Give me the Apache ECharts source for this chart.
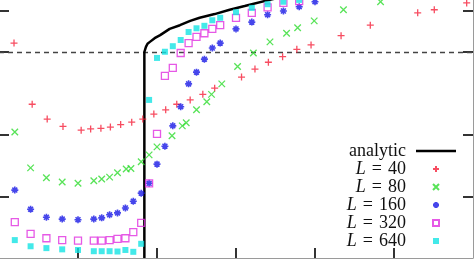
<!DOCTYPE html>
<html><head><meta charset="utf-8">
<script src="https://cdn.jsdelivr.net/npm/echarts@6/dist/echarts.min.js"></script>
<style>html,body{margin:0;padding:0;background:#fff;}#c{width:474px;height:259px;}</style>
</head><body><div id="c"></div>
<script>
const X_TICKS = [1, 2, 3, 4, 5];
const Y_TICKS = [1, 2, 10 / 3, 4];
const DASHED_LEVEL = 10 / 3;
const SERIES_NAMES = ['analytic', 'L = 40', 'L = 80', 'L = 160', 'L = 320', 'L = 640'];

const analytic = [[1.84,0],[1.84,3.336],[1.86,3.42],[1.88,3.47],[1.91,3.50],[1.97,3.56],[2.04,3.61],[2.16,3.71],[2.29,3.77],[2.42,3.84],[2.54,3.89],[2.73,3.95],[2.92,4.02],[3.11,4.08],[3.36,4.16],[3.62,4.24],[3.9,4.32],[4.2,4.40],[4.5,4.48],[4.7,4.53]];

const L40 = [[0.19,3.48],[0.42,2.49],[0.61,2.25],[0.81,2.13],[1.04,2.07],[1.16,2.09],[1.29,2.10],[1.41,2.12],[1.54,2.16],[1.68,2.20],[1.82,2.25],[1.96,2.33],[2.11,2.40],[2.25,2.49],[2.42,2.56],[2.58,2.65],[2.73,2.75],[3.07,2.93],[3.24,3.06],[3.41,3.17],[3.59,3.26],[3.77,3.38],[3.95,3.45],[4.33,3.60],[4.70,3.77],[5.30,3.97],[5.51,4.02],[5.92,4.13]];

const L80 = [[0.2,2.04],[0.4,1.46],[0.6,1.30],[0.8,1.23],[1.0,1.21],[1.2,1.25],[1.3,1.28],[1.4,1.31],[1.5,1.38],[1.61,1.44],[1.67,1.45],[1.8,1.56],[1.9,1.67],[2.0,1.80],[2.19,1.98],[2.32,2.14],[2.37,2.19],[2.5,2.40],[2.63,2.53],[2.69,2.65],[2.82,2.82],[3.02,3.10],[3.22,3.32],[3.43,3.50],[3.64,3.64],[3.78,3.73],[3.99,3.84],[4.36,4.02],[4.83,4.15]];

const L160 = [[0.2,1.10],[0.4,0.79],[0.6,0.66],[0.8,0.63],[1.0,0.62],[1.2,0.63],[1.3,0.65],[1.4,0.70],[1.5,0.73],[1.6,0.81],[1.7,0.92],[1.8,1.05],[1.9,1.21],[2.0,1.52],[2.1,1.81],[2.2,2.14],[2.3,2.45],[2.4,2.82],[2.5,3.01],[2.6,3.22],[2.7,3.40],[2.8,3.48],[3.0,3.71],[3.2,3.82],[3.4,3.94],[3.6,4.00],[3.8,4.07],[4.0,4.15]];

const L320 = [[0.2,0.58],[0.4,0.39],[0.6,0.32],[0.8,0.29],[1.0,0.28],[1.2,0.28],[1.3,0.28],[1.4,0.29],[1.5,0.31],[1.6,0.32],[1.7,0.42],[1.8,0.57],[1.9,1.21],[2.0,2.01],[2.1,2.95],[2.2,3.08],[2.3,3.32],[2.4,3.48],[2.5,3.58],[2.6,3.64],[2.7,3.71],[2.8,3.77],[3.0,3.89],[3.2,3.97],[3.4,4.06],[3.6,4.13],[3.8,4.16]];

const L640 = [[0.2,0.29],[0.4,0.19],[0.6,0.16],[0.8,0.14],[1.0,0.13],[1.2,0.11],[1.3,0.11],[1.4,0.11],[1.5,0.105],[1.6,0.13],[1.7,0.10],[1.8,0.23],[1.9,2.56],[2.0,3.24],[2.1,3.34],[2.2,3.43],[2.3,3.53],[2.4,3.66],[2.5,3.72],[2.6,3.76],[2.7,3.85],[2.8,3.89],[3.0,3.98],[3.2,4.05],[3.4,4.11],[3.6,4.15],[3.8,4.18]];

const FONT = "'Liberation Serif', 'DejaVu Serif', serif";
const SQUARE = 'path://M0,0L10,0L10,10L0,10Z';
const PLUS = 'path://M5,0L5,10M0,5L10,5';
const CROSS = 'path://M0,0L10,10M0,10L10,0';
const STAR = 'path://M5,0L5,10M0,5L10,5M1.5,1.5L8.5,8.5M1.5,8.5L8.5,1.5';
const chart = echarts.init(document.getElementById('c'), null, {renderer: 'canvas'});

function yAxisDef(pos) {
  return {
    type: 'value', position: pos, min: 0, max: 4.5,
    axisLine: {show: pos === 'right', lineStyle: {color: '#9a9a9a', width: 1}},
    axisTick: {show: true, inside: true, length: 10, customValues: Y_TICKS, lineStyle: {color: '#000', width: 1.6}},
    axisLabel: {show: false}, splitLine: {show: false}
  };
}

function pts(name, data, symbol, size, style) {
  return {name: name, type: 'scatter', data: data, symbol: symbol, symbolSize: size,
    itemStyle: style, z: 3, silent: true, animation: false};
}

const option = {
  animation: false,
  backgroundColor: '#fff',
  grid: {left: -1, right: 1, top: -19.875, bottom: 1, containLabel: false, outerBoundsMode: 'none'},
  xAxis: {
    type: 'value', min: 0, max: 6,
    axisLine: {show: true, onZero: false, lineStyle: {color: '#9a9a9a', width: 1}},
    axisTick: {show: true, inside: true, length: 10, customValues: X_TICKS, lineStyle: {color: '#000', width: 1.6}},
    axisLabel: {show: false}, splitLine: {show: false}
  },
  yAxis: [yAxisDef('left'), yAxisDef('right')],
  legend: {
    orient: 'vertical', align: 'right', right: 18, top: 142, padding: 0, itemGap: 0,
    itemWidth: 40, itemHeight: 6,
    data: [
      {name: 'analytic', icon: 'path://M0,0L40,0L40,2.5L0,2.5Z', itemStyle: {color: '#000', borderWidth: 0}},
      {name: 'L = 40'}, {name: 'L = 80'}, {name: 'L = 160'},
      {name: 'L = 320'}, {name: 'L = 640'}
    ],
    selectedMode: false,
    formatter: function (n) {
      if (n === SERIES_NAMES[0]) return n;
      return '{i|L}{e|=}' + n.split('= ')[1];
    },
    textStyle: {
      fontFamily: FONT, fontSize: 18, color: '#111', lineHeight: 17.5, padding: [0, 5, 0, 0],
      rich: {
        i: {fontFamily: FONT, fontSize: 18, fontStyle: 'italic', lineHeight: 17.5, color: '#111'},
        e: {fontFamily: FONT, fontSize: 18, lineHeight: 17.5, padding: [0, 6, 0, 6], color: '#111'}
      }
    }
  },
  series: [
    {
      name: 'analytic', type: 'line', data: analytic, symbol: 'none', z: 2, silent: true,
      lineStyle: {color: '#000', width: 2.5}, itemStyle: {color: '#000'},
      markLine: {
        silent: true, symbol: 'none', label: {show: false}, z: 1,
        lineStyle: {color: '#444', width: 1.4, type: [5, 4]},
        data: [{yAxis: DASHED_LEVEL}]
      }
    },
    pts('L = 40', L40, PLUS, 7, {color: 'rgba(0,0,0,0)', borderColor: '#f5203a', borderWidth: 1.3}),
    pts('L = 80', L80, CROSS, 6.5, {color: 'rgba(0,0,0,0)', borderColor: '#2edc2e', borderWidth: 1.3}),
    pts('L = 160', L160, STAR, 7, {color: 'rgba(0,0,0,0)', borderColor: '#1818e6', borderWidth: 1.6}),
    pts('L = 320', L320, SQUARE, 7, {color: 'rgba(0,0,0,0)', borderColor: '#e030e0', borderWidth: 1.3}),
    pts('L = 640', L640, SQUARE, 6, {color: '#14e4e4', borderWidth: 0})
  ]
};
chart.setOption(option);
</script></body></html>
